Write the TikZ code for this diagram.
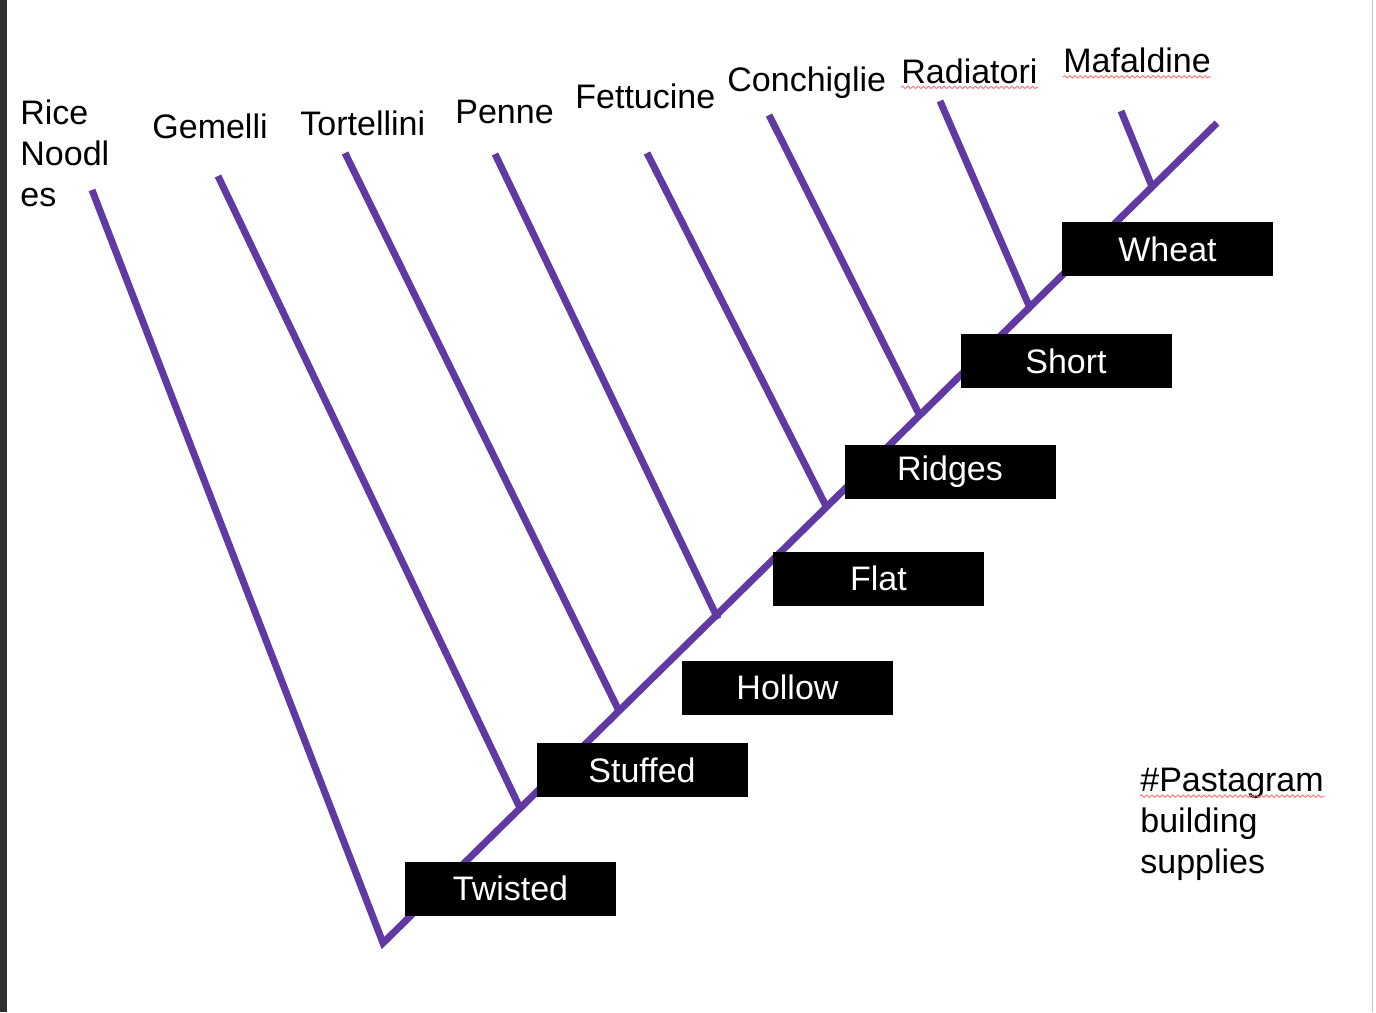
\documentclass[tikz,border=0pt]{standalone}
\usepackage{fontspec}
\setmainfont{Liberation Sans}
\usetikzlibrary{decorations.pathmorphing}
\definecolor{pastaPurple}{RGB}{96,58,162}
\definecolor{edgeGray}{RGB}{48,48,48}
\tikzstyle{blackRectangle} = [
    rectangle,
    fill=black,
    text=white,
    inner sep=0pt,
    minimum height=27pt,
    minimum width=105.5pt,
    font=\fontsize{17}{21}\selectfont
    ]
\tikzstyle{pastaLabel} = [
    anchor=base west,
    inner sep=0pt,
    font=\fontsize{17}{20.5}\selectfont
    ]
\tikzstyle{purpleLine} = [
    draw=pastaPurple,
    line width=3.5pt
    ]
\tikzstyle{spellLine} = [
    draw=red!55,
    line width=0.45pt,
    decorate,
    decoration={snake, amplitude=0.6pt, segment length=2.6pt}
    ]

\begin{document}
\begin{tikzpicture}[x=0.5pt, y=-0.5pt]
    \useasboundingbox (0,0) rectangle (1376,1012);
    \fill[white] (0,0) rectangle (1376,1012);
    \fill[edgeGray] (0,0) rectangle (7,1012);
    \draw[gray!45, line width=0.8pt] (1372.5,0) -- (1372.5,1012);

    \coordinate (root) at (383,943);
    \coordinate (trunkTop) at (1217,123);
    \coordinate (riceTop) at (92,190);
    \coordinate (gemelliTop) at (218,176);
    \coordinate (gemelliJoin) at (520,808);
    \coordinate (tortelliniTop) at (345,153);
    \coordinate (tortelliniJoin) at (620,713);
    \coordinate (penneTop) at (495,154);
    \coordinate (penneJoin) at (718,619);
    \coordinate (fettucineTop) at (647,153);
    \coordinate (fettucineJoin) at (826,506);
    \coordinate (conchiglieTop) at (769,115);
    \coordinate (conchiglieJoin) at (919,414);
    \coordinate (radiatoriTop) at (940,101);
    \coordinate (radiatoriJoin) at (1030,308);
    \coordinate (mafaldineTop) at (1121,111);
    \coordinate (mafaldineJoin) at (1153,189);

    \draw[purpleLine] (riceTop) -- (root) -- (trunkTop);
    \draw[purpleLine] (gemelliTop) -- (gemelliJoin);
    \draw[purpleLine] (tortelliniTop) -- (tortelliniJoin);
    \draw[purpleLine] (penneTop) -- (penneJoin);
    \draw[purpleLine] (fettucineTop) -- (fettucineJoin);
    \draw[purpleLine] (conchiglieTop) -- (conchiglieJoin);
    \draw[purpleLine] (radiatoriTop) -- (radiatoriJoin);
    \draw[purpleLine] (mafaldineTop) -- (mafaldineJoin);

    \node[pastaLabel, align=left] (rice) at (20,206) {Rice\\Noodl\\es};
    \node[pastaLabel] (gemelli) at (152,138) {Gemelli};
    \node[pastaLabel] (tortellini) at (300,135) {Tortellini};
    \node[pastaLabel] (penne) at (455,123) {Penne};
    \node[pastaLabel] (fettucine) at (575,108) {Fettucine};
    \node[pastaLabel] (conchiglie) at (727,91) {Conchiglie};
    \node[pastaLabel] (radiatori) at (901,83) {Radiatori};
    \node[pastaLabel] (mafaldine) at (1063,72) {Mafaldine};
    \node[pastaLabel, align=left] (supplies) at (1140,873) {\#Pastagram\\building\\supplies};

    \draw[spellLine] ([yshift=-2.2pt]radiatori.base west) -- ([yshift=-2.2pt]radiatori.base east);
    \draw[spellLine] ([yshift=-2.4pt]mafaldine.base west) -- ([yshift=-2.4pt]mafaldine.base east);
    \draw[spellLine] ([yshift=38.4pt]supplies.base west) -- ++(92.5pt,0);

    \node[blackRectangle] (wheat) at (1167.5,249) {Wheat};
    \node[blackRectangle] (short) at (1066,361) {Short};
    \node[blackRectangle] (ridges) at (950,472) {Ridges};
    \node[blackRectangle] (flat) at (878.5,578.5) {Flat};
    \node[blackRectangle] (hollow) at (787.5,687.5) {Hollow};
    \node[blackRectangle] (stuffed) at (642,770) {Stuffed};
    \node[blackRectangle] (twisted) at (510.5,888.5) {Twisted};
\end{tikzpicture}
\end{document}
